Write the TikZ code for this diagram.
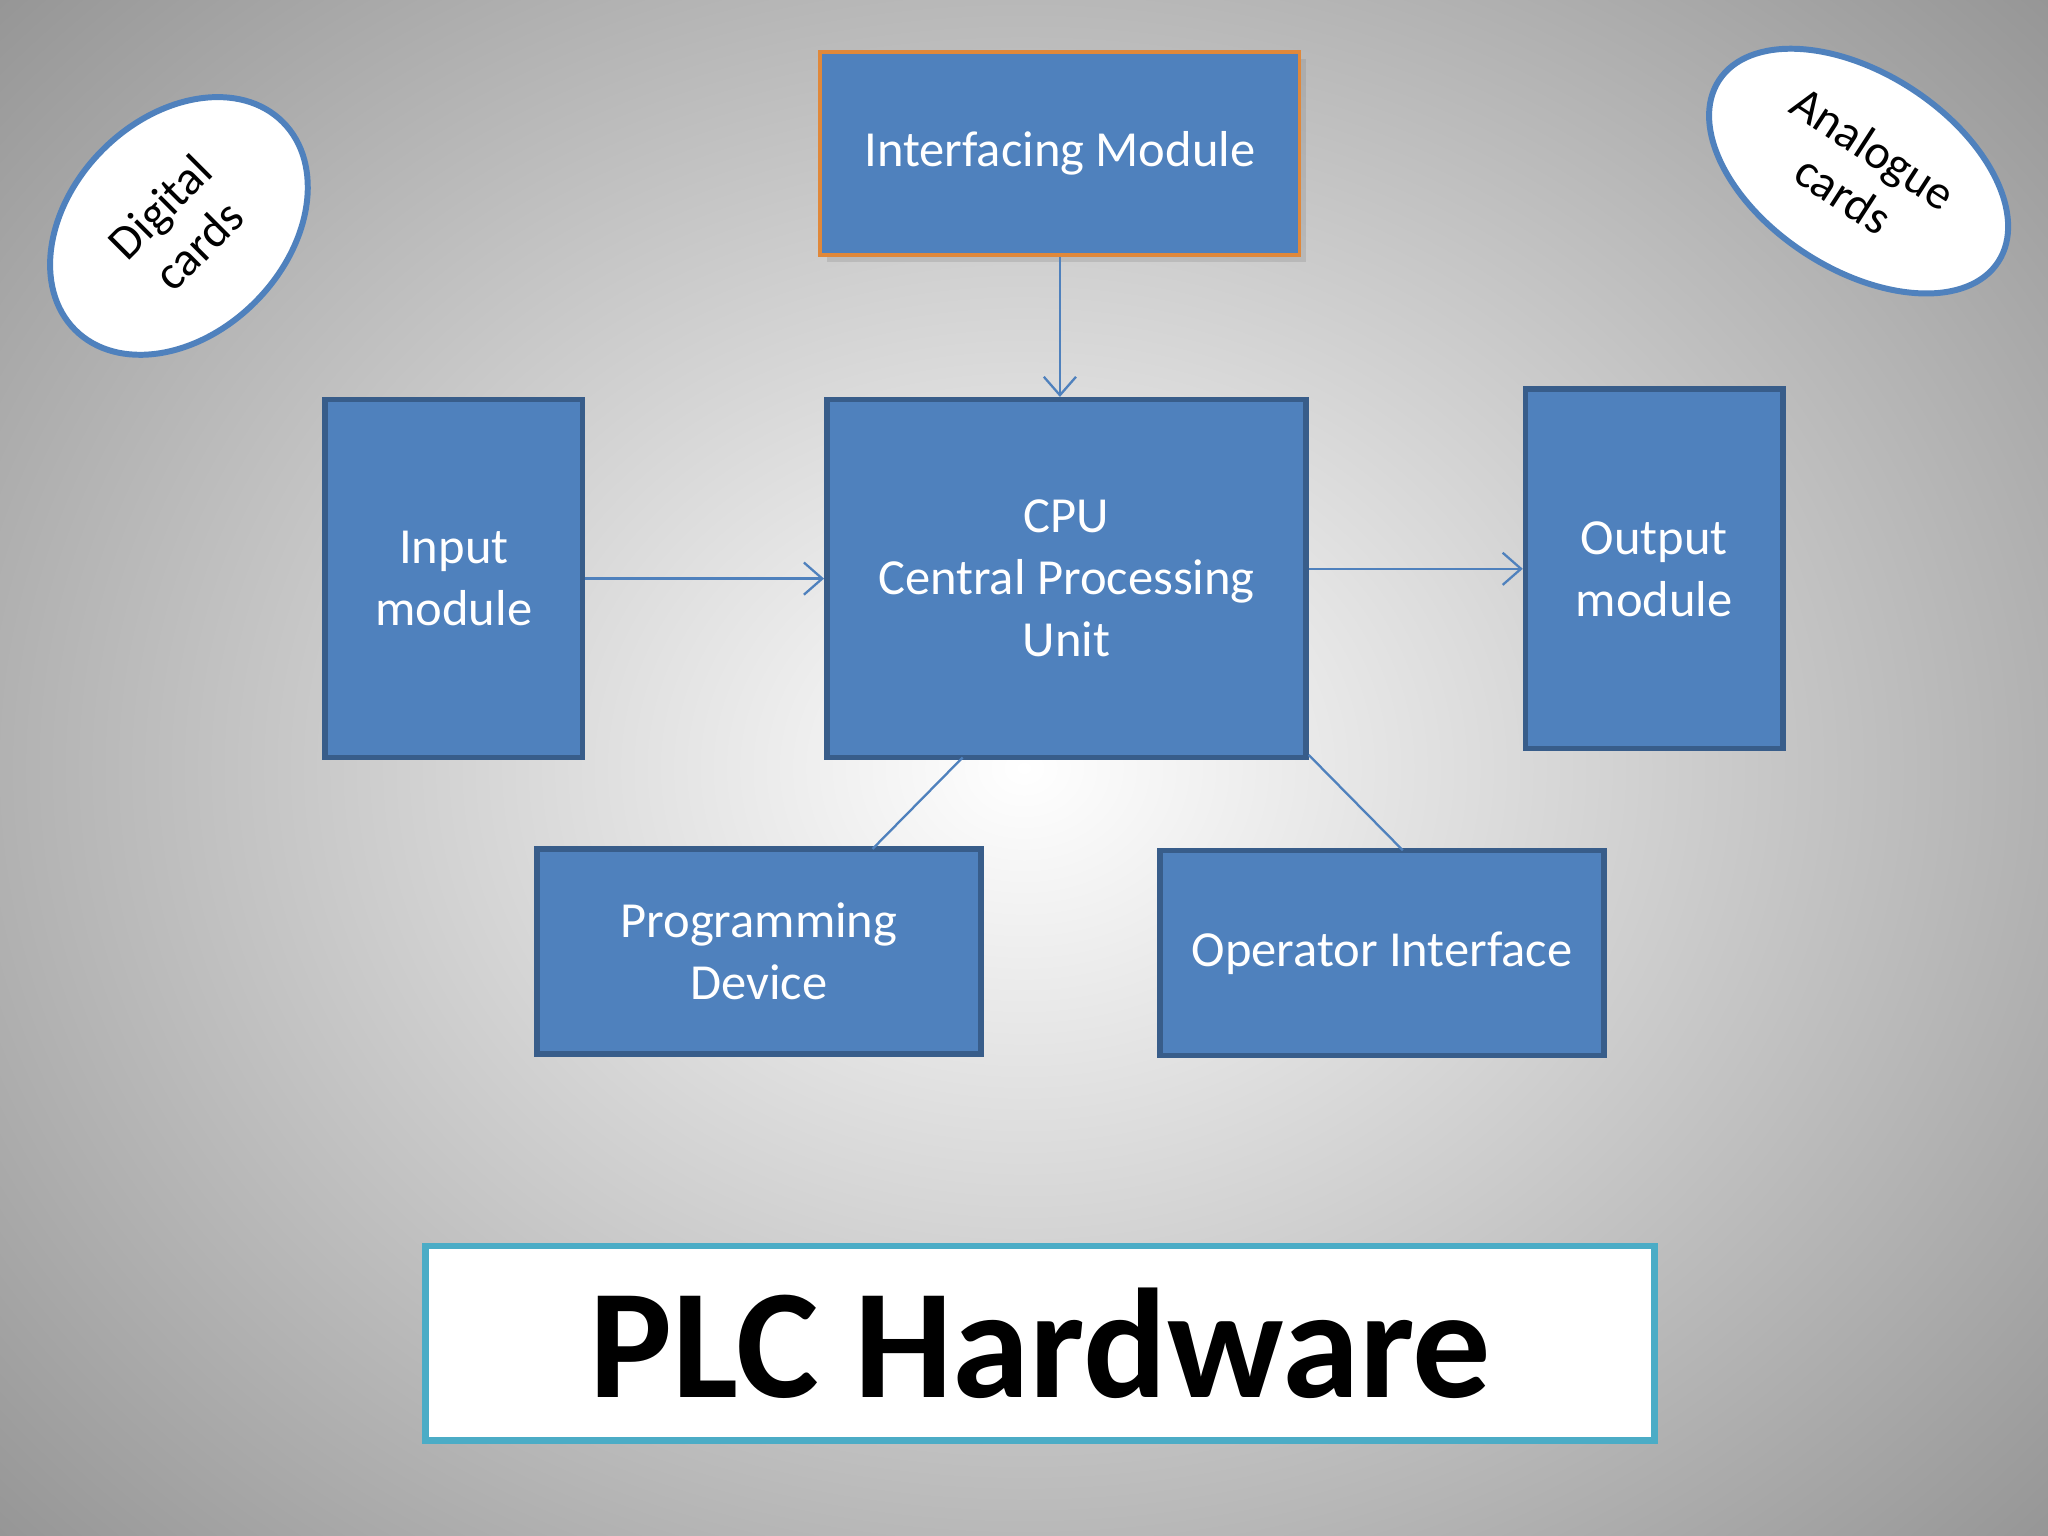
\documentclass[tikz,border=0pt]{standalone}
\usepackage{fontspec}
\setmainfont{Carlito}
\usetikzlibrary{calc,arrows.meta,shadows,shapes.geometric}
\definecolor{boxblue}{HTML}{4F81BD}
\definecolor{boxedge}{HTML}{385D8A}
\definecolor{titleedge}{HTML}{4BACC6}
\tikzset{
  blk/.style={draw=boxedge,line width=1.2pt,fill=boxblue,text=white,font=\fontsize{11}{13.5}\selectfont,align=center,inner sep=0pt},
  conn/.style={draw=boxblue,line width=0.5pt},
  arr/.style={conn,-{Straight Barb[length=4pt,width=7pt]}},
  oval/.style={ellipse,draw=boxblue,line width=1.3pt,fill=white,align=center,font=\fontsize{10.5}{12}\selectfont,inner sep=0pt}
}
\begin{document}
\begin{tikzpicture}[x=0.01cm,y=-0.01cm]
\useasboundingbox (0,0) rectangle (1568,1176);
\shade[inner color=white,outer color=black!42] (-300,-300) rectangle (1868,1476);
\node[blk,draw={rgb,255:red,224;green,136;blue,58},line width=0.8pt,drop shadow={shadow xshift=1.5pt,shadow yshift=-1.5pt,opacity=0.25},minimum width=367*0.01cm,minimum height=155*0.01cm] (ifm) at (811.5,117.5) {Interfacing Module};
\node[blk,minimum width=367*0.01cm,minimum height=274*0.01cm] (cpu) at (816.5,443) {CPU\\Central Processing\\Unit};
\node[blk,minimum width=197*0.01cm,minimum height=274*0.01cm] (inp) at (347.5,443) {Input\\module};
\node[blk,minimum width=197*0.01cm,minimum height=275*0.01cm] (out) at (1266.5,435.5) {Output\\module};
\node[blk,minimum width=340*0.01cm,minimum height=157*0.01cm] (prog) at (581,728.5) {Programming\\Device};
\node[blk,minimum width=340*0.01cm,minimum height=157*0.01cm] (op) at (1058,729.5) {Operator Interface};
\node[draw=titleedge,line width=1.5pt,fill=white,minimum width=941*0.01cm,minimum height=149*0.01cm,font=\fontsize{34}{36}\selectfont\bfseries] (title) at (796.5,1028.5) {PLC Hardware};
\node[oval,minimum width=225*0.01cm,minimum height=165*0.01cm,rotate=45] (dig) at (137,173) {Digital\\cards};
\node[oval,minimum width=255*0.01cm,minimum height=150*0.01cm,rotate=-33] (ana) at (1423,131) {Analogue\\cards};
\draw[arr] (ifm.south) -- (ifm.south |- cpu.north);
\draw[arr] (inp.east) -- (cpu.west);
\draw[arr] (cpu.east |- out.west) -- (out.west);
\coordinate (c1) at (737,580);
\coordinate (p1) at (668,650);
\coordinate (c2) at (1002,578);
\coordinate (o1) at (1074,651);
\draw[conn] (c1) -- (p1);
\draw[conn] (c2) -- (o1);
\end{tikzpicture}
\end{document}
